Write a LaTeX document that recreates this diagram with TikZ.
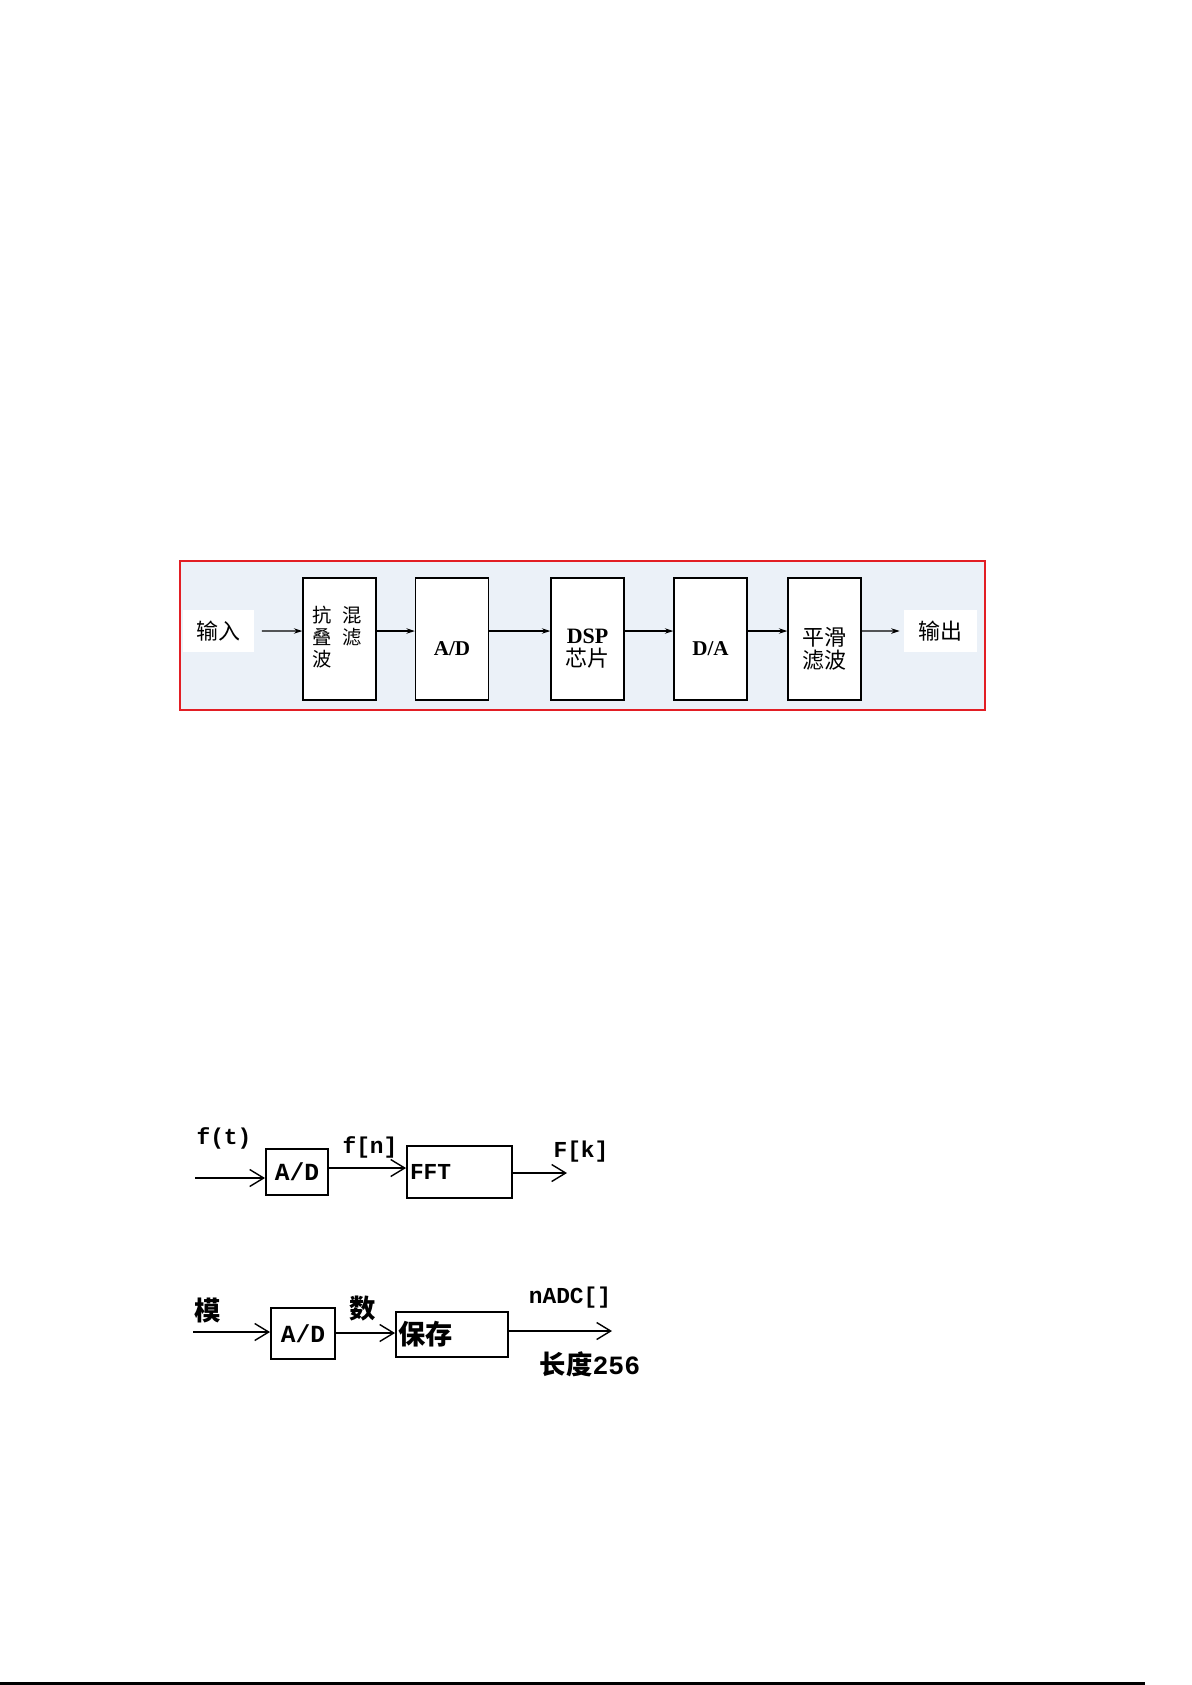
\documentclass[tikz,border=0pt]{standalone}
\usepackage{fontspec}
\setmainfont{Liberation Serif}
\newfontfamily\cjk{Noto Sans CJK SC}
\newfontfamily\pix{Liberation Mono}
\usetikzlibrary{arrows.meta}
\definecolor{panelblue}{RGB}{235,241,248}
\definecolor{framered}{RGB}{226,30,36}

\begin{document}
\begin{tikzpicture}[x=0.02cm, y=-0.02cm,
        block/.style={draw, thick, fill=white, minimum width=1.46cm, minimum height=2.44cm, inner sep=0pt},
        inside/.style={inner sep=0pt, align=center, yshift=-0.19cm},
        tag/.style={fill=white, minimum width=1.44cm, minimum height=0.84cm, inner sep=0pt, font=\cjk\fontsize{12.5}{14}\selectfont},
        flow/.style={-{Stealth[length=0.17cm, width=0.11cm]}, line width=0.6pt},
        hand/.style={draw, line width=1.1pt, inner sep=0pt},
        sig/.style={-{Straight Barb[length=0.28cm, width=0.34cm, line width=0.8pt]}, line width=0.9pt},
        lab/.style={font=\pix\bfseries\fontsize{13}{15}\selectfont, inner sep=0pt},
        zi/.style={font=\cjk\bfseries\fontsize{15}{17}\selectfont, inner sep=0pt}]
    \useasboundingbox (0,0) rectangle (1192,1685);
    \fill[white] (0,0) rectangle (1192,1685);

    % DSP system chain
    \draw[framered, line width=0.9pt, fill=panelblue] (180,561) rectangle (985,710);
    \node[tag] (in) at (218.5,631) {输入};
    \node[block, label={[inner sep=0pt, xshift=-0.04cm, font=\cjk\fontsize{11}{10.2}\selectfont]center:%
        \begin{tabular}{@{}l@{\hspace{0.55em}}l@{}}抗&混\\叠&滤\\波&\end{tabular}}] (aa) at (339.5,639) {};
    \node[block, label={[inside, font=\bfseries\fontsize{12}{14}\selectfont]center:A/D}] (adc) at (452,639) {};
    \node[block, label={[inside, font=\fontsize{12.5}{13}\selectfont]center:\textbf{DSP}\\{\cjk 芯片}}] (dsp) at (587.5,639) {};
    \node[block, label={[inside, font=\bfseries\fontsize{12}{14}\selectfont]center:D/A}] (dac) at (710.5,639) {};
    \node[block, label={[inside, font=\cjk\fontsize{12.5}{13}\selectfont]center:平滑\\滤波}] (sm) at (824.5,639) {};
    \node[tag, minimum width=1.46cm] (out) at (940.5,631) {输出};

    \draw[flow, shorten <=0.14cm] (in.east) -- ([yshift=0.16cm]aa.west);
    \draw[flow] ([yshift=0.16cm]aa.east) -- ([yshift=0.16cm]adc.west);
    \draw[flow] ([yshift=0.16cm]adc.east) -- ([yshift=0.16cm]dsp.west);
    \draw[flow] ([yshift=0.16cm]dsp.east) -- ([yshift=0.16cm]dac.west);
    \draw[flow] ([yshift=0.16cm]dac.east) -- ([yshift=0.16cm]sm.west);
    \draw[flow, shorten >=0.08cm] ([yshift=0.16cm]sm.east) -- (out.west);

    % sampling and FFT
    \node[hand, minimum width=1.24cm, minimum height=0.92cm, font=\pix\bfseries\fontsize{14}{16}\selectfont] (ad1) at (297,1172) {A/D};
    \node[hand, minimum width=2.1cm, minimum height=1.04cm, text width=1.98cm, align=left,
        font=\pix\bfseries\fontsize{13}{15}\selectfont] (fft) at (459.5,1172) {FFT};
    \coordinate (ft) at (195,1178);
    \coordinate (Fk) at (567,1173);
    \draw[sig] (ft) -- ([yshift=-0.12cm]ad1.west);
    \draw[sig] ([yshift=0.08cm]ad1.east) -- ([yshift=0.08cm]fft.west);
    \draw[sig] ([yshift=-0.02cm]fft.east) -- (Fk);
    \node[lab] (ftl) at (224,1138) {f(t)};
    \node[lab] (fnl) at (370,1147) {f[n]};
    \node[lab] (Fkl) at (581,1152) {F[k]};

    % sampling and storing
    \node[hand, minimum width=1.28cm, minimum height=1.02cm, font=\pix\bfseries\fontsize{14}{16}\selectfont] (ad2) at (303,1333.5) {A/D};
    \node[hand, minimum width=2.24cm, minimum height=0.9cm, text width=2.14cm, align=left,
        font=\cjk\bfseries\fontsize{15.5}{17}\selectfont] (save) at (452,1334.5) {保存};
    \coordinate (mo) at (193,1332);
    \coordinate (arr) at (612,1331);
    \draw[sig] (mo) -- ([yshift=0.03cm]ad2.west);
    \draw[sig] ([yshift=0.01cm]ad2.east) -- ([yshift=0.03cm]save.west);
    \draw[sig] ([yshift=0.07cm]save.east) -- (arr);
    \node[zi] (mol) at (208,1310) {模};
    \node[zi] (shu) at (363,1309) {数};
    \node[lab] (nadc) at (570,1298) {nADC[]};
    \node[zi] (len) at (590,1364) {长度{\pix 256}};

    % page edge
    \draw[line width=1.2pt] (0,1683.5) -- (1145,1683.5);
\end{tikzpicture}
\end{document}
